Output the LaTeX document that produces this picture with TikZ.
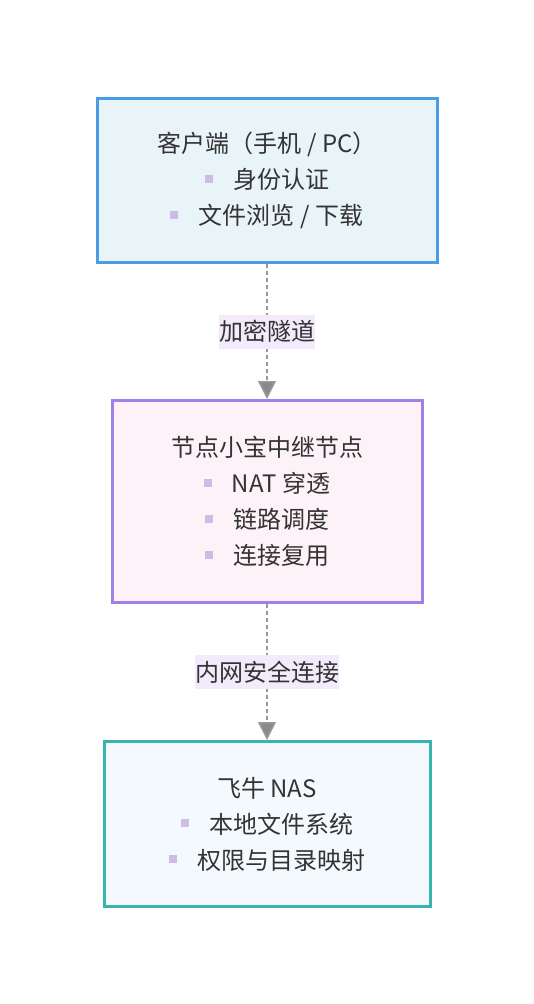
\documentclass[tikz,border=0pt]{standalone}
\usepackage{fontspec}
\setmainfont{Noto Sans CJK SC}
\usepackage{xcolor}
\usetikzlibrary {arrows.meta,
                 positioning}
\definecolor{clientline}{HTML}{4A9DE2}
\definecolor{clientfill}{HTML}{E8F4F8}
\definecolor{relayline}{HTML}{A47FE8}
\definecolor{relayfill}{HTML}{FDF2F8}
\definecolor{nasline}{HTML}{3AB3AC}
\definecolor{nasfill}{HTML}{F4F9FD}
\definecolor{labelfill}{HTML}{F3EAFB}
\definecolor{bulletfill}{HTML}{CDBDE6}
\definecolor{textcol}{HTML}{333333}
\definecolor{linkcol}{HTML}{999999}
\newcommand{\itembullet}{\textcolor{bulletfill}{\rule[6pt]{8pt}{8pt}}\hspace{20pt}}
\newcommand{\wslash}{\hspace{6pt}/\hspace{6pt}}
\tikzset{
        base/.style={draw, rectangle, align=center, line width=3pt,
                     text=textcol, font=\fontsize{24}{36}\selectfont},
        client/.style={base, draw=clientline, fill=clientfill,
                       minimum width=340pt, minimum height=164pt},
        relay/.style={base, draw=relayline, fill=relayfill,
                      minimum width=310pt, minimum height=202pt},
        nas/.style={base, draw=nasline, fill=nasfill,
                    minimum width=326pt, minimum height=165pt},
        edgelabel/.style={fill=labelfill, text=textcol, inner sep=0pt,
                          minimum height=34pt, font=\fontsize{24}{24}\selectfont},
        link/.style={draw=linkcol, line width=1.5pt, dash pattern=on 4pt off 3pt,
                     -{Triangle[width=18pt, length=18pt, fill=linkcol!90!black]}},
 }
\begin{document}
\begin{tikzpicture}
    \useasboundingbox (0pt,0pt) rectangle (534pt,-1004pt);

    \node[client] (cl) at (267pt,-180.5pt)
        {客户端（手机\wslash PC）\\ \itembullet 身份认证\\ \itembullet 文件浏览\wslash 下载};
    \node[relay] (rl) at (267pt,-501.5pt)
        {节点小宝中继节点\\ \itembullet NAT 穿透\\ \itembullet 链路调度\\ \itembullet 连接复用};
    \node[nas] (ns) at (267pt,-824pt)
        {飞牛 NAS\\ \itembullet 本地文件系统\\ \itembullet 权限与目录映射};

    \draw[link] (cl) -- node[edgelabel] (tl) {加密隧道} (rl);
    \draw[link] (rl) -- node[edgelabel] (il) {内网安全连接} (ns);
\end{tikzpicture}
\end{document}
